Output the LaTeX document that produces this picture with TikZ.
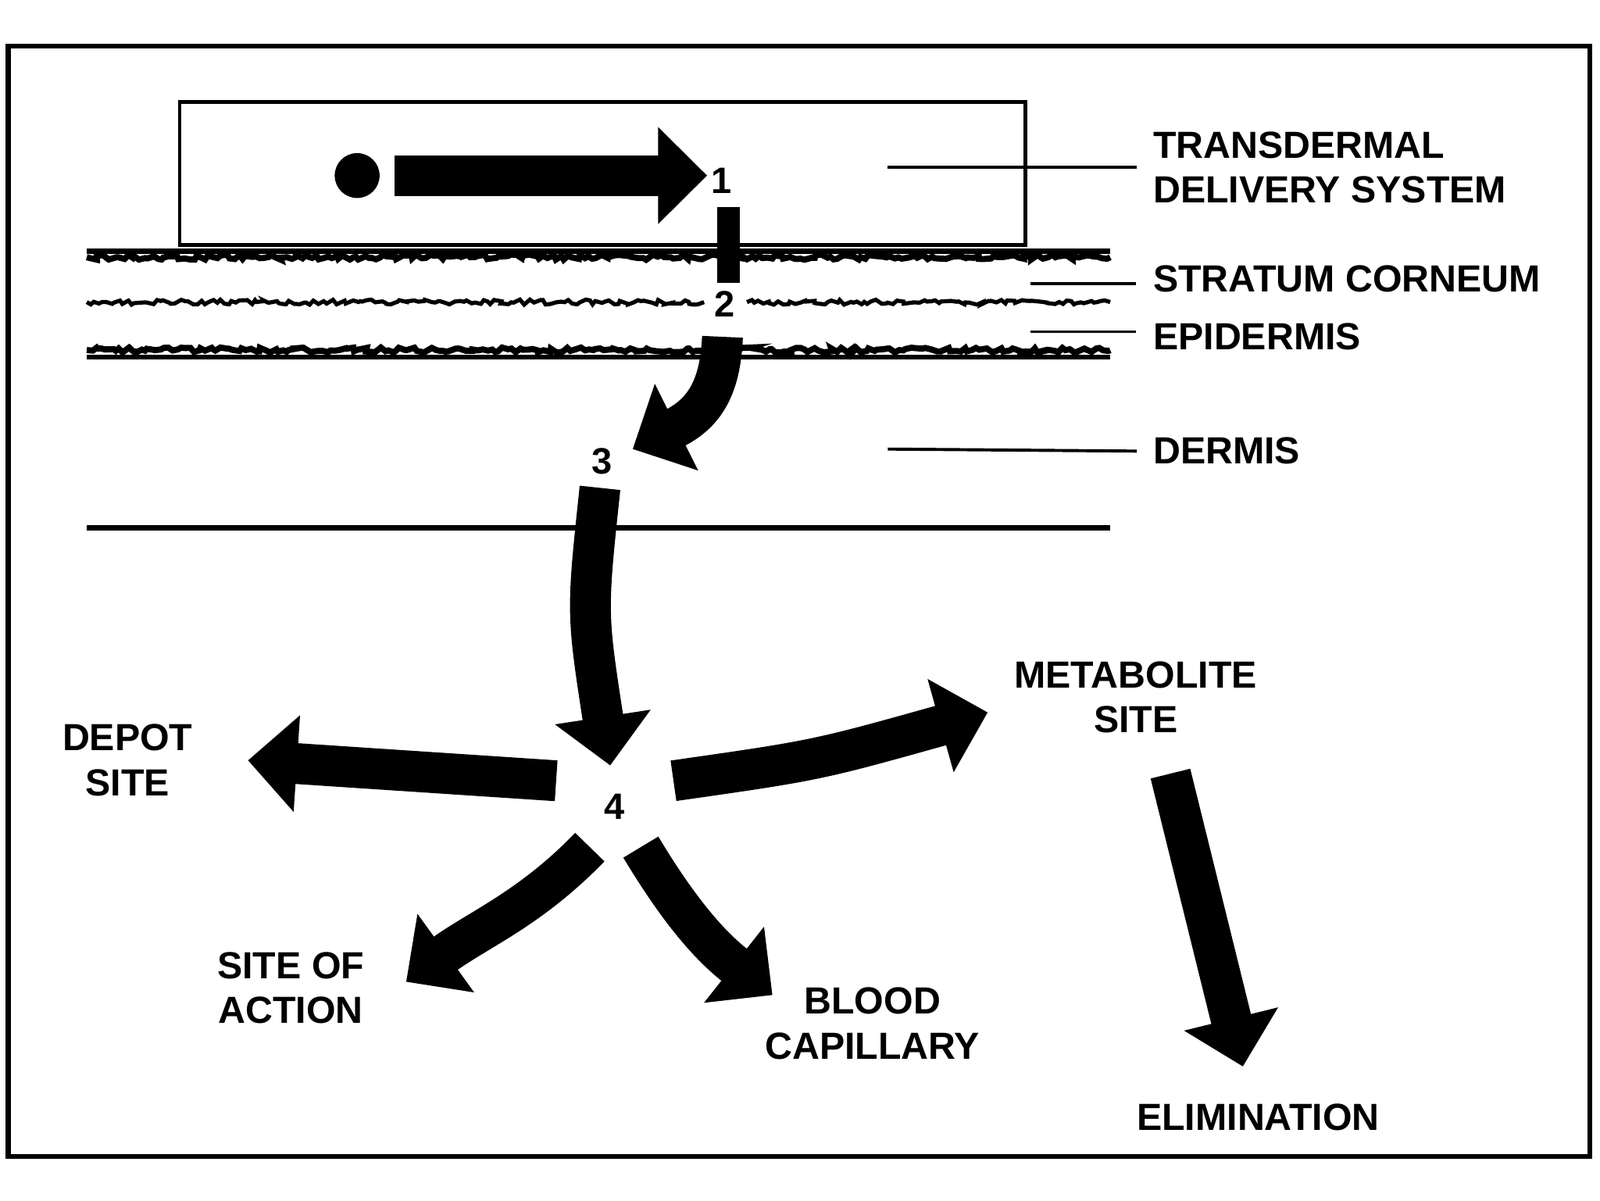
\documentclass[tikz,border=0pt]{standalone}
\usepackage{fontspec}
\setmainfont{Liberation Sans}
\usetikzlibrary{arrows.meta,decorations.pathmorphing}
\begin{document}
\begin{tikzpicture}[x=1pt,y=-1pt,
  lbl/.style={font=\fontsize{37}{44}\selectfont\bfseries,align=center,inner sep=0},
  num/.style={font=\fontsize{36}{40}\selectfont\bfseries,inner sep=0},
  big/.style={line width=40pt,-{Triangle[length=48pt,width=92pt]}},
  lead/.style={line width=3pt},
  skin/.style={line width=6pt,decorate,decoration={random steps,segment length=4pt,amplitude=2.5pt}}]
\useasboundingbox (0,0) rectangle (1568,1176);
\draw[line width=5pt] (8,45) rectangle (1558,1133);
\draw[line width=3.5pt] (176,100) rectangle (1005,240);
\fill (350,172) circle (22);
% skin layers
\draw[line width=5pt] (85,246) -- (1088,246);
\draw[skin] (85,252) -- (1088,252);
\draw[skin,line width=4pt] (85,296) -- (690,296);
\draw[skin,line width=4pt] (732,296) -- (1088,296);
\draw[line width=5pt] (85,350) -- (1088,350);
\draw[skin] (85,343) -- (1088,343);
\draw[line width=5pt] (85,517) -- (1088,517);
% numbers
\node[num] (n1) at (707,177) {1};
\node[num] (n2) at (710,298) {2};
\node[num] (n3) at (590,452) {3};
\node[num] (n4) at (602,790) {4};
\coordinate (s0) at (387,172);
\draw[big] (s0) -- (693,172);
\fill (703,203) rectangle (725,277);
\coordinate (c2) at (708,330);
\draw[big] (c2) .. controls (706,380) and (690,405) .. (620,440);
\coordinate (c3) at (588,478);
\draw[big] (c3) .. controls (575,600) .. (598,750);
% labels
\node[lbl,anchor=west,align=left] (tds) at (1130,164) {TRANSDERMAL\\DELIVERY SYSTEM};
\node[lbl,anchor=west] (sc) at (1130,273) {STRATUM CORNEUM};
\node[lbl,anchor=west] (ep) at (1130,330) {EPIDERMIS};
\node[lbl,anchor=west] (de) at (1130,442) {DERMIS};
\node[lbl] (me) at (1113,683) {METABOLITE\\SITE};
\node[lbl] (dp) at (125,745) {DEPOT\\SITE};
\node[lbl] (sa) at (285,968) {SITE OF\\ACTION};
\node[lbl] (bc) at (855,1003) {BLOOD\\CAPILLARY};
\node[lbl] (el) at (1233,1095) {ELIMINATION};
% leaders
\draw[lead] (870,164) -- ([xshift=-16pt]tds.west);
\draw[lead] (1010,278) -- (1113,278);
\draw[lead] (1010,325) -- (1113,325);
\draw[lead] (870,440) -- ([xshift=-16pt]de.west);
% outgoing arrows
\coordinate (a1) at (545,765);
\coordinate (a2) at (660,765);
\coordinate (a3) at (578,830);
\coordinate (a4) at (628,830);
\coordinate (a5) at (1147,758);
\draw[big] (a1) -- (243,745);
\draw[big] (a2) .. controls (800,745) .. (968,698);
\draw[big] (a3) .. controls (520,890) and (470,910) .. (398,962);
\draw[big] (a4) .. controls (670,900) and (700,930) .. (757,975);
\draw[big] (a5) -- (1218,1045);
\end{tikzpicture}
\end{document}
